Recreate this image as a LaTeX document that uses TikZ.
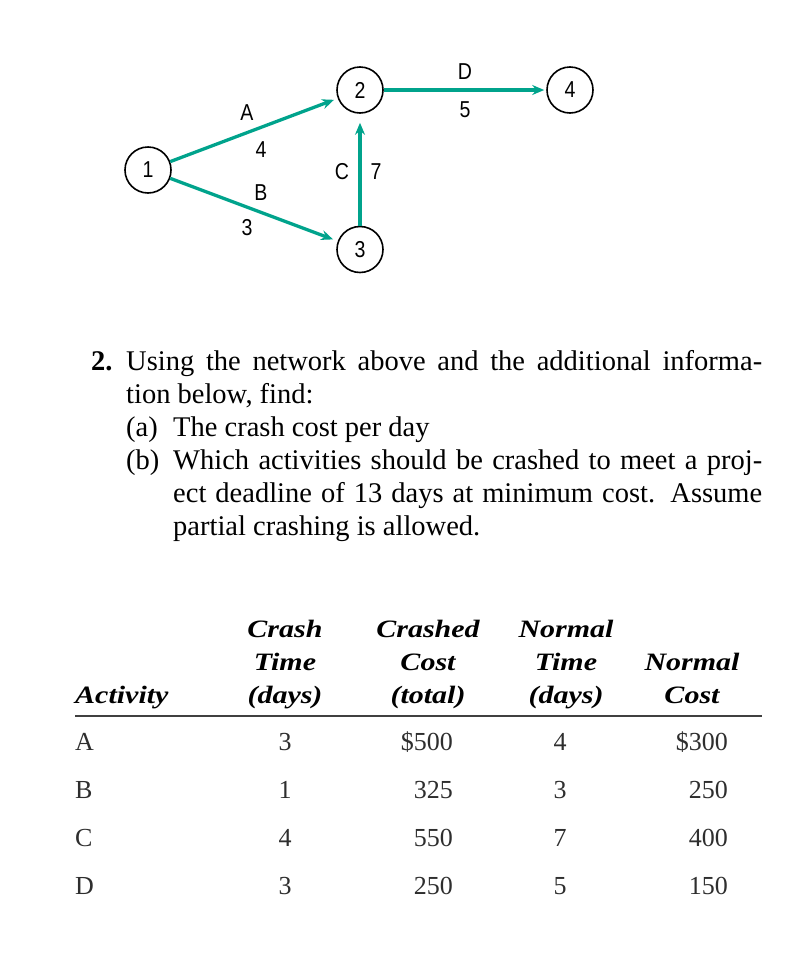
\documentclass[tikz,border=0pt]{standalone}
\usepackage{fontspec}
\setmainfont{Liberation Serif}
\newfontfamily\grfont[FakeStretch=0.85]{Liberation Sans}
\newfontfamily\hdfont[FakeStretch=1.2]{Liberation Serif}
\usetikzlibrary{arrows.meta}
\definecolor{teal1}{RGB}{0,163,140}
\begin{document}
\begin{tikzpicture}[x=1pt,y=-1pt,
  ev/.style={circle,draw=black,line width=1.6pt,minimum size=46pt,inner sep=0pt,font=\grfont\fontsize{23}{23}\selectfont},
  act/.style={draw=teal1,line width=3.3pt,-{Stealth[length=12pt,width=10pt,inset=4pt]}},
  lab/.style={inner sep=0pt,font=\grfont\fontsize{23}{23}\selectfont},
  txt/.style={anchor=base west,inner sep=0pt,font=\fontsize{28.5}{33}\selectfont},
  hd/.style={anchor=base,inner sep=0pt,font=\hdfont\bfseries\itshape\fontsize{25}{25}\selectfont},
  cell/.style={anchor=base,inner sep=0pt,text=black!82,font=\fontsize{26}{26}\selectfont},
  cellr/.style={anchor=base east,inner sep=0pt,text=black!82,font=\fontsize{26}{26}\selectfont},
  celll/.style={anchor=base west,inner sep=0pt,text=black!82,font=\fontsize{26}{26}\selectfont}]
\useasboundingbox (0,0) rectangle (792,956);
% network
\node[ev] (n1) at (148,170) {1};
\node[ev] (n2) at (360,90) {2};
\node[ev] (n3) at (360,249.5) {3};
\node[ev] (n4) at (570,90) {4};
\draw[act,shorten >=4pt] (n1) -- (n2);
\draw[act,shorten >=5pt] (n1) -- (n3);
\draw[act,shorten >=9pt] (n3) -- (n2);
\draw[act,shorten >=2pt] (n2) -- (n4);
\node[lab] (lA) at (247,113) {A};
\node[lab] (l4) at (261,150) {4};
\node[lab] (lB) at (261,193) {B};
\node[lab] (l3) at (247,228) {3};
\node[lab] (lC) at (342,172) {C};
\node[lab] (l7) at (376,172) {7};
\node[lab] (lD) at (465,72) {D};
\node[lab] (l5) at (465,110) {5};
% problem text
\node[txt] (t0) at (91,370) {\bfseries 2.};
\node[txt] (t1) at (126,370) {\makebox[636pt][s]{Using the network above and the additional informa-}};
\node[txt] (t2) at (126,403) {tion below, find:};
\node[txt] (t3a) at (126,436) {(a)};
\node[txt] (t3) at (173,436) {The crash cost per day};
\node[txt] (t4a) at (126,469) {(b)};
\node[txt] (t4) at (173,469) {\makebox[589pt][s]{Which activities should be crashed to meet a proj-}};
\node[txt] (t5) at (173,502) {\makebox[589pt][s]{ect deadline of 13 days at minimum cost. Assume}};
\node[txt] (t6) at (173,535) {partial crashing is allowed.};
% table header
\node[hd,anchor=base west] (hAct) at (75,703) {Activity};
\node[hd] (hc1) at (285,637) {Crash};
\node[hd] (hc2) at (285,670) {Time};
\node[hd] (hc3) at (285,703) {(days)};
\node[hd] (hk1) at (428,637) {Crashed};
\node[hd] (hk2) at (428,670) {Cost};
\node[hd] (hk3) at (428,703) {(total)};
\node[hd] (hn1) at (566,637) {Normal};
\node[hd] (hn2) at (566,670) {Time};
\node[hd] (hn3) at (566,703) {(days)};
\node[hd] (hm1) at (692,670) {Normal};
\node[hd] (hm2) at (692,703) {Cost};
\draw[line width=1.8pt,black!75] (75,716) coordinate (r1) -- (762,716) coordinate (r2);
% rows
\node[celll] (a1) at (75,750) {A};
\node[cell] (a2) at (285,750) {3};
\node[cellr] (a3) at (453,750) {\$500};
\node[cell] (a4) at (560,750) {4};
\node[cellr] (a5) at (728,750) {\$300};
\node[celll] (b1) at (75,798) {B};
\node[cell] (b2) at (285,798) {1};
\node[cellr] (b3) at (453,798) {325};
\node[cell] (b4) at (560,798) {3};
\node[cellr] (b5) at (728,798) {250};
\node[celll] (c1) at (75,846) {C};
\node[cell] (c2) at (285,846) {4};
\node[cellr] (c3) at (453,846) {550};
\node[cell] (c4) at (560,846) {7};
\node[cellr] (c5) at (728,846) {400};
\node[celll] (d1) at (75,894) {D};
\node[cell] (d2) at (285,894) {3};
\node[cellr] (d3) at (453,894) {250};
\node[cell] (d4) at (560,894) {5};
\node[cellr] (d5) at (728,894) {150};
\end{tikzpicture}
\end{document}
